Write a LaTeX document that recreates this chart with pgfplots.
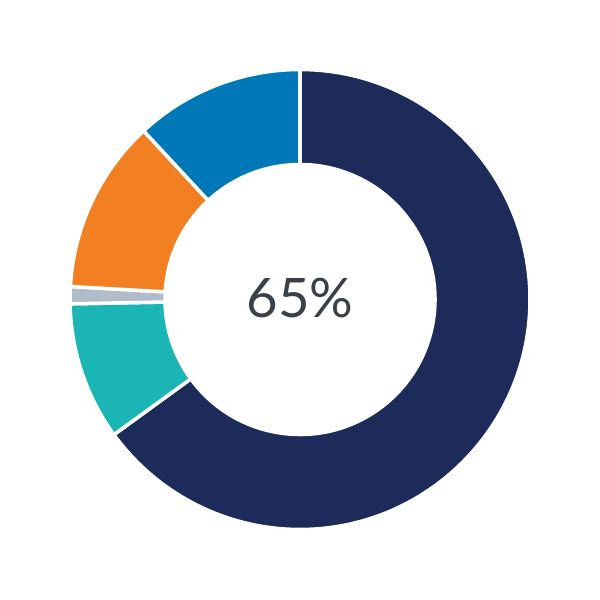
\documentclass[border=0pt]{standalone}
\usepackage{pgfplots}
\pgfplotsset{compat=1.18}
\usepackage{pgfplotstable}
\usepackage{fontspec}
\setmainfont{Lato}
\definecolor{cnavy}{HTML}{1C2B5A}
\definecolor{cteal}{HTML}{1CB5B5}
\definecolor{cgrey}{HTML}{B1BCCB}
\definecolor{corange}{HTML}{F28022}
\definecolor{cblue}{HTML}{0077B6}
\definecolor{ctext}{HTML}{3A4048}
\pgfplotstableread{
share colour
65.0 cnavy
9.7 cteal
1.2 cgrey
12.2 corange
11.9 cblue
}\donut
\begin{document}
\begin{tikzpicture}
\begin{axis}[
  hide axis,
  x=1cm, y=1cm,
  xmin=-3, xmax=3, ymin=-3, ymax=3,
  scale only axis,
  clip=false,
]
\path (axis cs:-3,-3) rectangle (axis cs:3,3);
\def\acc{0}
\pgfplotsforeachungrouped \i in {0,...,4}{%
  \pgfplotstablegetelem{\i}{share}\of\donut
  \let\v\pgfplotsretval
  \pgfplotstablegetelem{\i}{colour}\of\donut
  \let\c\pgfplotsretval
  \pgfmathsetmacro\a{90-3.6*\acc}%
  \pgfmathsetmacro\b{90-3.6*(\acc+\v)}%
  \pgfmathsetmacro\bb{\b+180}%
  \pgfmathsetmacro\acc{\acc+\v}%
  \edef\temp{\noexpand\fill[\c, draw=white, line width=1pt, line join=miter]
    (axis cs:0,0.005) ++(\a:2.30cm)
    arc[start angle=\a, end angle=\b, radius=2.30cm]
    -- ++(\bb:0.95cm)
    arc[start angle=\b, end angle=\a, radius=1.35cm] -- cycle;}%
  \temp
}
\node[text=ctext, font=\fontsize{15.5}{18}\selectfont] at (axis cs:0,0.02) {65\%};
\end{axis}
\end{tikzpicture}
\end{document}
